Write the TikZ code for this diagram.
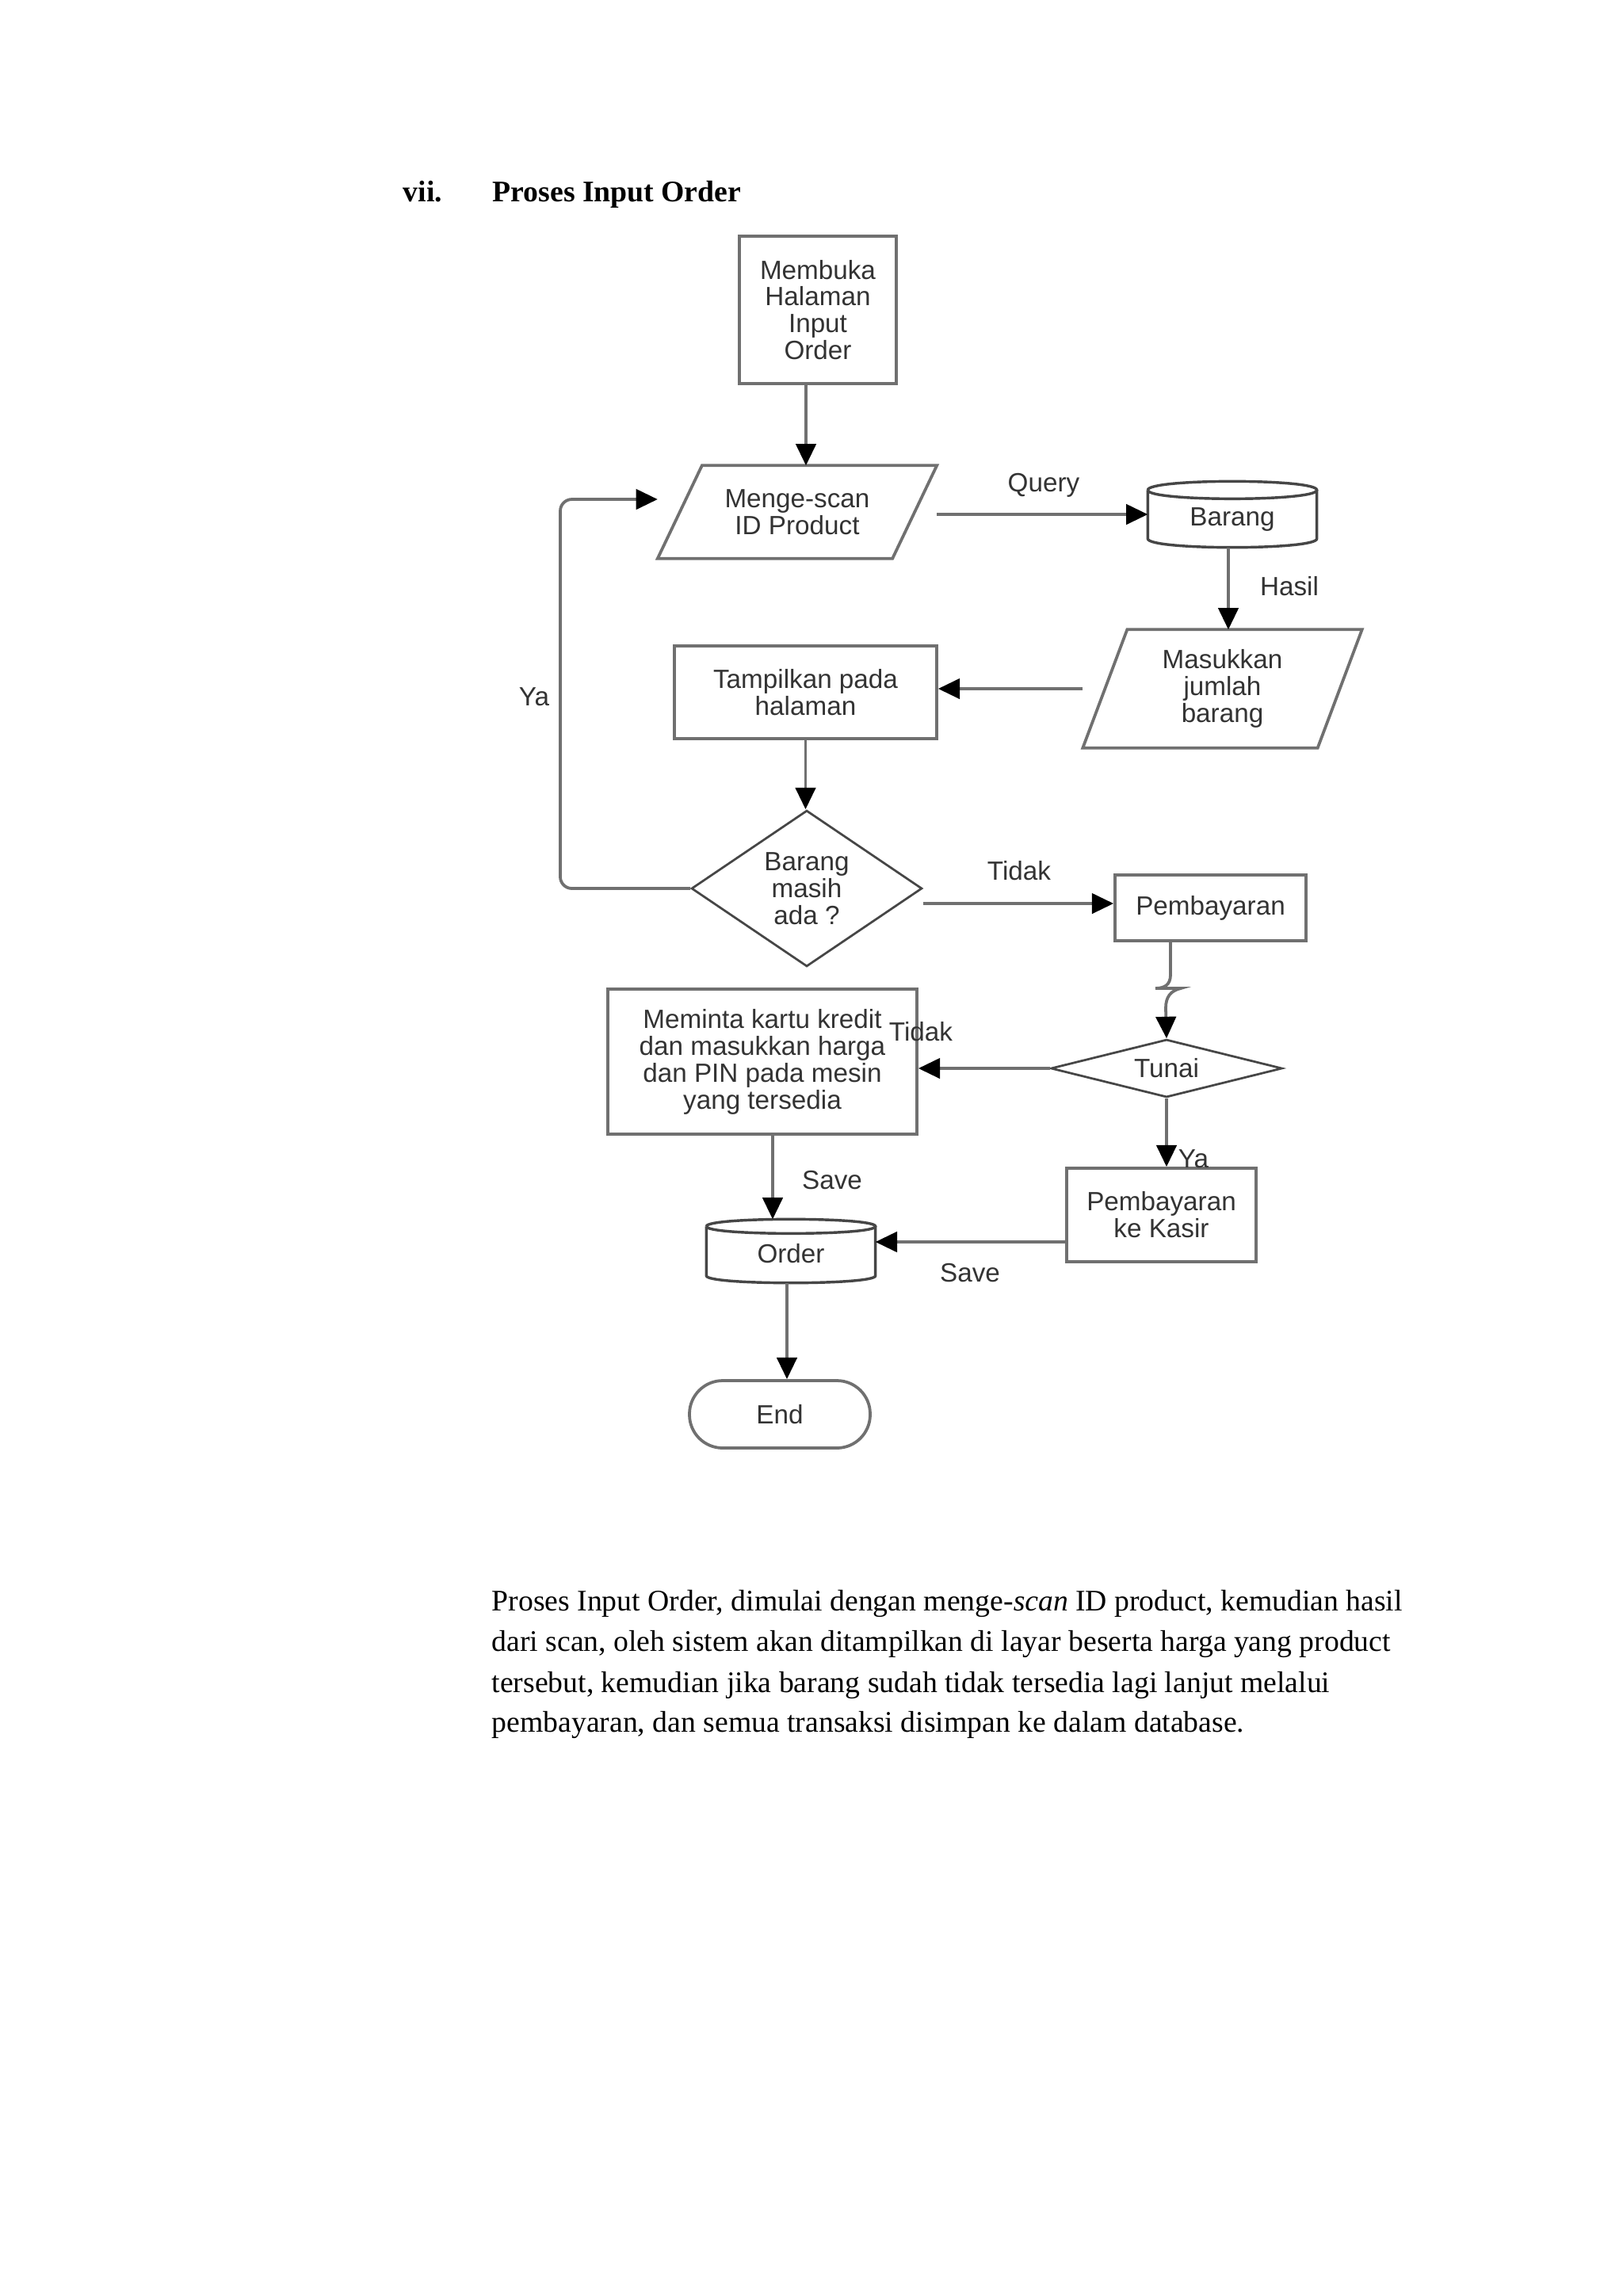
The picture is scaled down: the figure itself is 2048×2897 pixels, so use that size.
\documentclass[tikz,border=0pt]{standalone}
\usepackage{fontspec}
\setmainfont{Liberation Serif}
\newfontfamily\diagfont{Liberation Sans}
\usetikzlibrary{arrows.meta,shapes.geometric,calc}
\definecolor{lgray}{RGB}{112,112,112}
\definecolor{dgray}{RGB}{70,70,70}
\definecolor{tgray}{RGB}{51,51,51}
\def\pxl{0.010254cm}
\newcommand\drawcyl[2]{%
 \draw[cline] ($(#1.north west)+(0,#2)$) -- ($(#1.south west)+(0,-#2)$)
   .. controls ($(#1.south west)+(0,#2/3)$) and ($(#1.south east)+(0,#2/3)$) .. ($(#1.south east)+(0,-#2)$)
   -- ($(#1.north east)+(0,#2)$);
 \draw[cline] ($(#1.north west)+(0,#2)$) .. controls ($(#1.north west)+(0,-#2/3)$) and ($(#1.north east)+(0,-#2/3)$) .. ($(#1.north east)+(0,#2)$)
   .. controls ($(#1.north east)+(0,#2*7/3)$) and ($(#1.north west)+(0,#2*7/3)$) .. ($(#1.north west)+(0,#2)$);
}
\begin{document}
\begin{tikzpicture}[x=0.010254cm, y=-0.010254cm,
  every node/.style={font=\diagfont\fontsize{9.7}{9.9}\selectfont, text=tgray},
  box/.style={draw=lgray, line width=1.1pt, fill=white, align=center, inner sep=0pt},
  ghost/.style={align=center, inner sep=0pt},
  dshape/.style={diamond, draw=dgray, line width=0.8pt, align=center, inner sep=0pt},
  pline/.style={draw=lgray, line width=1.1pt, line join=miter},
  cline/.style={draw=dgray, line width=1pt},
  arr/.style={draw=lgray, line width=1.1pt, -{Triangle[length=0.28cm,width=0.26cm,color=black,fill=black]}},
  lbl/.style={inner sep=0pt},
  body/.style={font=\rmfamily\fontsize{11}{14.8}\selectfont, text=black, inner sep=0pt, anchor=base west}
]
\fill[white] (0,0) rectangle (2048,2897);
\useasboundingbox (0,0) rectangle (2048,2897);

% title
\node[font=\rmfamily\bfseries\fontsize{11}{13}\selectfont, text=black, inner sep=0pt, anchor=base west] (tnum) at (508,254) {vii.};
\node[font=\rmfamily\bfseries\fontsize{11}{13}\selectfont, text=black, inner sep=0pt, anchor=base west] (ttitle) at (621,254) {Proses Input Order};

% nodes
\node[box, minimum width=198*\pxl, minimum height=186*\pxl] (membuka) at (1032,391) {Membuka\\Halaman\\Input\\Order};

\node[ghost, minimum width=351*\pxl, minimum height=116*\pxl] (scan) at (1006,646) {Menge-scan\\ID Product};
\draw[pline] ($(scan.north west)+(56,0)$) -- (scan.north east) -- ($(scan.south east)+(-56,0)$) -- (scan.south west) -- cycle;

\node[ghost, minimum width=212*\pxl, minimum height=82*\pxl] (barang) at (1555,649) {};
\drawcyl{barang}{11}
\node[lbl] (barangtxt) at (1555,655) {Barang};

\node[ghost, minimum width=351*\pxl, minimum height=148*\pxl] (masuk) at (1542.5,869) {Masukkan\\jumlah\\barang};
\draw[pline] ($(masuk.north west)+(56,0)$) -- (masuk.north east) -- ($(masuk.south east)+(-56,0)$) -- (masuk.south west) -- cycle;

\node[box, minimum width=331*\pxl, minimum height=117*\pxl] (tampil) at (1016.5,873.5) {Tampilkan pada\\halaman};

\node[dshape, minimum width=291*\pxl, minimum height=197*\pxl, aspect=1.48] (dia) at (1018,1121) {Barang\\masih\\ada ?};

\node[box, minimum width=241*\pxl, minimum height=83*\pxl] (bayar) at (1527.5,1145.5) {Pembayaran};

\node[dshape, minimum width=292*\pxl, minimum height=73*\pxl, aspect=4] (tunai) at (1472,1348) {Tunai};

\node[box, minimum width=390*\pxl, minimum height=183*\pxl] (minta) at (962,1339.5) {Meminta kartu kredit\\dan masukkan harga\\dan PIN pada mesin\\yang tersedia};

\node[box, minimum width=239*\pxl, minimum height=118*\pxl] (kasir) at (1465.5,1533) {Pembayaran\\ke Kasir};

\node[ghost, minimum width=212*\pxl, minimum height=79*\pxl] (order) at (998,1578.5) {};
\drawcyl{order}{9}
\node[lbl] (ordertxt) at (998,1582) {Order};

\node[box, rounded corners=0.43cm, minimum width=228*\pxl, minimum height=85*\pxl] (fin) at (984,1784.5) {End};

% connectors
\coordinate (m1) at ($(membuka.south)+(-15,0)$);
\draw[arr] (m1) -- (m1 |- scan.north);

\draw[arr] (scan.east |- barang.west) -- (barang.west);
\draw[arr] ($(barang.south)+(-5,0)$) -- ($(barang.south |- masuk.north)+(-5,0)$);
\draw[arr] (masuk.west) -- (masuk.west -| tampil.east);
\draw[arr] (tampil.south) -- (tampil.south |- dia.north);

\coordinate (yacorner) at (707,630);
\draw[arr, rounded corners=0.15cm] (dia.west) -| (yacorner) -- (yacorner -| scan.west);

\coordinate (tdk) at (0,1140);
\draw[arr] (dia.east |- tdk) -- (bayar.west |- tdk);

\draw[arr] ($(bayar.south -| tunai.north)+(5,0)$) -- (1477,1230)
  .. controls (1477,1242) and (1470,1247) .. (1458,1247) -- (1490,1247)
  .. controls (1477,1250) and (1471,1258) .. (1471,1272) -- (tunai.north);

\draw[arr] (tunai.west) -- (tunai.west -| minta.east);
\draw[arr] (tunai.south) -- (tunai.south |- kasir.north);

\coordinate (m2) at ($(minta.south)+(13,0)$);
\draw[arr] (m2) -- (m2 |- order.north);

\coordinate (s2) at (0,1567);
\draw[arr] (kasir.west |- s2) -- (order.east |- s2);

\draw[arr] ($(order.south)+(-5,0)$) -- ($(order.south |- fin.north)+(-5,0)$);

% labels
\node[lbl] (lquery) at (1317,612) {Query};
\node[lbl] (lhasil) at (1627,740) {Hasil};
\node[lbl] (lya1) at (674,879) {Ya};
\node[lbl] (ltidak1) at (1286,1099) {Tidak};
\node[lbl] (ltidak2) at (1162,1302) {Tidak};
\node[lbl] (lya2) at (1506,1462) {Ya};
\node[lbl] (lsave1) at (1050,1489) {Save};
\node[lbl] (lsave2) at (1224,1606) {Save};

% body text
\node[body] (p1) at (620,2032) {Proses Input Order, dimulai dengan menge-\textit{scan} ID product, kemudian hasil};
\node[body] (p2) at (620,2083) {dari scan, oleh sistem akan ditampilkan di layar beserta harga yang product};
\node[body] (p3) at (620,2135) {tersebut, kemudian jika barang sudah tidak tersedia lagi lanjut melalui};
\node[body] (p4) at (620,2185) {pembayaran, dan semua transaksi disimpan ke dalam database.};
\end{tikzpicture}
\end{document}
